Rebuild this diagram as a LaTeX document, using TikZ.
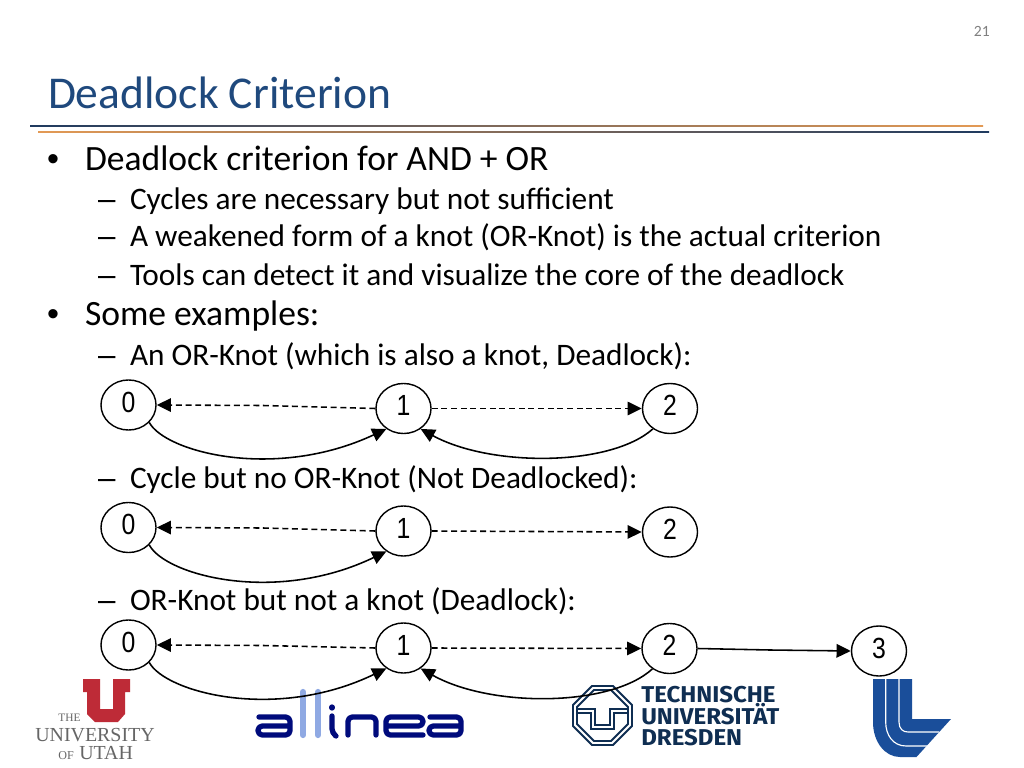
\documentclass[tikz,border=0pt]{standalone}
\usepackage{graphicx}
\usepackage{fontspec}
\setmainfont{Carlito}
\newfontfamily\bulletfont{Liberation Sans}
\newfontfamily\tufont[FakeStretch=1.05]{Fira Sans Bold}
\newfontfamily\utahfont{Liberation Serif}
\usetikzlibrary{arrows.meta,shadings,shapes.geometric}
\definecolor{titleblue}{HTML}{1F497D}
\definecolor{ruledark}{HTML}{1F3A5F}
\definecolor{ruleorange}{HTML}{E39A55}
\definecolor{utahred}{HTML}{BE2B37}
\definecolor{allnavy}{HTML}{000B7C}
\definecolor{alllight}{HTML}{8FA9E3}
\definecolor{tublue}{HTML}{0F2E52}
\definecolor{llblue}{HTML}{1A4E9A}
\newcommand\proclabel[1]{\raisebox{-5.2pt}[0pt][0pt]{\scalebox{.85}[1]{#1}}}
\tikzset{
  x=0.703125pt,y=-0.703125pt,
  txt/.style={anchor=base west,inner sep=0,outer sep=0,text=black},
  lvlone/.style={txt,font=\fontsize{25}{25}\selectfont},
  lvltwo/.style={txt,font=\fontsize{22}{22}\selectfont},
  bulletmark/.style={txt,font=\bulletfont\fontsize{22}{22}\selectfont},
  proc/.style={ellipse,draw=black,line width=1pt,minimum width=38.7pt,minimum height=35.2pt,inner sep=0,font=\bulletfont\fontsize{20.5}{20.5}\selectfont},
  dep/.style={line width=1.1pt,dash pattern=on 4.2pt off 2.6pt,-{Triangle[length=10pt,width=9.5pt]}},
  wait/.style={line width=1.1pt,-{Triangle[length=10pt,width=9.5pt]}},
  allstroke/.style={draw=allnavy,line width=3.7pt,line cap=round,line join=round,rounded corners=3pt},
  tuline/.style={draw=tublue,line width=1.35pt,line join=miter},
  tutext/.style={anchor=base west,inner sep=0,text=tublue,font=\tufont\fontsize{16.1}{16.1}\selectfont},
  utah/.style={anchor=base,inner sep=0,text=black!60,font=\utahfont},
}
\begin{document}
\begin{tikzpicture}
\useasboundingbox (0,0) rectangle (1024,768);
\fill[white] (0,0) rectangle (1024,768);
% header
\node[anchor=base east,inner sep=0,text=black!50,font=\fontsize{11}{11}\selectfont] (pg) at (990,37) {21};
\node[txt,text=titleblue,font=\fontsize{32}{32}\selectfont] (title) at (48,108.5) {Deadlock Criterion};
\shade[left color=ruledark,right color=ruleorange] (30,125.2) rectangle (983,127);
\shade[left color=ruleorange,right color=ruledark] (38,131.2) rectangle (989,133);
% text
\node[bulletmark,font=\bulletfont\fontsize{24}{24}\selectfont] (b1) at (47,170.5) {•};
\node[lvlone] (t1) at (85,170.5) {Deadlock criterion for AND + OR};
\node[bulletmark] (d1) at (98,210) {–};
\node[lvltwo] (s1) at (130,210) {Cycles are necessary but not sufficient};
\node[bulletmark] (d2) at (98,247) {–};
\node[lvltwo] (s2) at (130,247) {A weakened form of a knot (OR-Knot) is the actual criterion};
\node[bulletmark] (d3) at (98,285) {–};
\node[lvltwo] (s3) at (130,285) {Tools can detect it and visualize the core of the deadlock};
\node[bulletmark,font=\bulletfont\fontsize{24}{24}\selectfont] (b2) at (47,325.5) {•};
\node[lvlone] (t2) at (85,325.5) {Some examples:};
\node[bulletmark] (d4) at (98,365) {–};
\node[lvltwo] (s4) at (130,365) {An OR-Knot (which is also a knot, Deadlock):};
\node[bulletmark] (d5) at (98,488) {–};
\node[lvltwo] (s5) at (130,488) {Cycle but no OR-Knot (Not Deadlocked):};
\node[bulletmark] (d6) at (98,610) {–};
\node[lvltwo] (s6) at (130,610) {OR-Knot but not a knot (Deadlock):};
% Utah logo
\fill[utahred] (83,679) -- (100,679) -- (100,709) -- (113,709) -- (113,679) -- (130,679) -- (130,692) -- (125,692) -- (125,714) -- (118,722) -- (95,722) -- (87,714) -- (87,692) -- (83,692) -- cycle;
\node[utah,font=\utahfont\fontsize{8}{8}\selectfont] (uthe) at (69.5,721) {THE};
\node[utah,font=\utahfont\fontsize{14}{14}\selectfont] (uuni) at (95,741) {UNIVERSITY};
\node[utah,anchor=base west,font=\utahfont\fontsize{8.5}{8.5}\selectfont] (uof) at (58,759) {OF};
\node[utah,anchor=base west,font=\utahfont\fontsize{14}{14}\selectfont] (uut) at (79,759) {UTAH};
% allinea logo
\draw[alllight,line width=4.4pt,line cap=round] (303,692) -- (303,735);
\draw[alllight,line width=4.4pt,line cap=round] (318,692) -- (318,735);
\path[allstroke] (259,717) -- (290,717) -- (290,735) -- (258,735) -- (258,726) -- (290,726);
\draw[allnavy,line width=3.7pt,line cap=round] (332,707) -- (332,708);
\path[allstroke] (332,716) -- (332,733) -- (336,736);
\path[allstroke] (348,735) -- (348,717) -- (376,717) -- (376,735);
\path[allstroke] (423,735) -- (386,735) -- (386,717) -- (423,717) -- (423,726) -- (386,726);
\path[allstroke] (430,717) -- (461,717) -- (461,735) -- (429,735) -- (429,726) -- (461,726);
% TU Dresden logo
\draw[tuline] (592,686) -- (613,686) -- (632,705) -- (632,726) -- (613,745) -- (592,745) -- (573,726) -- (573,705) -- cycle;
\draw[tuline] (594,690) -- (611,690) -- (628,707) -- (628,724) -- (611,741) -- (594,741) -- (577,724) -- (577,707) -- cycle;
\draw[tuline] (577,709) -- (595,709) -- (595,725) -- (610,725) -- (610,709) -- (628,709);
\draw[tuline] (577,713) -- (591,713) -- (591,729) -- (614,729) -- (614,713) -- (628,713);
\node[tutext] (tu1) at (641,702) {TECHNISCHE};
\node[tutext] (tu2) at (641,724) {UNIVERSITÄT};
\node[tutext] (tu3) at (641,745) {DRESDEN};
% LLNL logo
\fill[llblue] (873,679) -- (912,679) -- (912,719) -- (951,719) -- (916.5,757) -- (900,757) .. controls (885,757) and (873,742) .. (873,722) -- cycle;
\draw[white,line width=0.8pt] (885.7,679) -- (885.7,722) .. controls (885.7,735) and (893,746) .. (906,746) -- (927,746);
\draw[white,line width=0.8pt] (899,679) -- (899,722) .. controls (899,729) and (903,732) .. (908,732) -- (939,732);
% graph 1
\node[proc] (a0) at (128.5,405) {\proclabel{0}};
\node[proc] (a1) at (403.5,408.5) {\proclabel{1}};
\node[proc] (a2) at (670,408.5) {\proclabel{2}};
\coordinate (am) at (263,405.5);
\draw[dep] (a1.west) -- (am) -- (a0.east);
\draw[dep] (a1.east) -- (a2.west);
\draw[wait] (a0.-40) .. controls (165,452) and (275,481) .. (a1.-130);
\draw[wait] (a2.-130) .. controls (610,467) and (490,467) .. (a1.-50);
% graph 2
\node[proc] (c0) at (128.5,527.5) {\proclabel{0}};
\node[proc] (c1) at (403.5,531) {\proclabel{1}};
\node[proc] (c2) at (670,532) {\proclabel{2}};
\coordinate (cm) at (263,528);
\draw[dep] (c1.west) -- (cm) -- (c0.east);
\draw[dep] (c1.east) -- (c2.west);
\draw[wait] (c0.-40) .. controls (165,575) and (275,605) .. (c1.-130);
% graph 3
\node[proc] (e0) at (128.5,645) {\proclabel{0}};
\node[proc] (e1) at (403.5,648) {\proclabel{1}};
\node[proc] (e2) at (669.5,648.5) {\proclabel{2}};
\node[proc] (e3) at (879,651) {\proclabel{3}};
\coordinate (em) at (263,645.5);
\coordinate (en) at (770,650);
\draw[dep] (e1.west) -- (em) -- (e0.east);
\draw[dep] (e1.east) -- (e2.west);
\draw[wait] (e0.-40) .. controls (165,692) and (275,722) .. (e1.-130);
\draw[wait] (e2.-130) .. controls (610,707.5) and (490,707.5) .. (e1.-50);
\draw[wait] (e2.east) -- (en) -- (e3.west);
\end{tikzpicture}
\end{document}
